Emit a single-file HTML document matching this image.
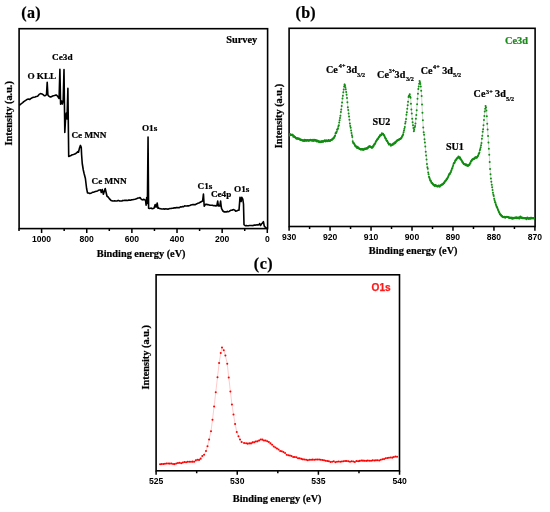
<!DOCTYPE html><html><head><meta charset="utf-8"><title>XPS spectra</title><style>html,body{margin:0;padding:0;background:#fff;width:550px;height:512px;overflow:hidden}svg{display:block}</style></head><body><svg width="550" height="512" viewBox="0 0 550 512"><rect width="550" height="512" fill="#fff"/><text x="21.3" y="18" style="font-family:'Liberation Serif',serif;font-weight:bold;stroke:currentColor;stroke-width:0.22px;font-size:16px;letter-spacing:0.25px">(a)</text><text x="295.6" y="18" style="font-family:'Liberation Serif',serif;font-weight:bold;stroke:currentColor;stroke-width:0.22px;font-size:16px;letter-spacing:0.25px">(b)</text><text x="253.8" y="268.7" style="font-family:'Liberation Serif',serif;font-weight:bold;stroke:currentColor;stroke-width:0.22px;font-size:16px;letter-spacing:0.5px">(c)</text><rect x="19.1" y="28.7" width="248.5" height="199.9" fill="none" stroke="#000" stroke-width="1.6"/><rect x="289.1" y="28.3" width="246" height="198.2" fill="none" stroke="#000" stroke-width="1.6"/><rect x="156.1" y="274.8" width="243.4" height="196" fill="none" stroke="#000" stroke-width="1.6"/><path d="M267.30 228.60V233.10M244.73 228.60V231.00M222.16 228.60V233.10M199.59 228.60V231.00M177.02 228.60V233.10M154.45 228.60V231.00M131.88 228.60V233.10M109.31 228.60V231.00M86.74 228.60V233.10M64.17 228.60V231.00M41.60 228.60V233.10M19.03 228.60V231.00M534.92 226.50V230.70M514.44 226.50V229.10M493.95 226.50V230.70M473.47 226.50V229.10M452.98 226.50V230.70M432.50 226.50V229.10M412.01 226.50V230.70M391.53 226.50V229.10M371.04 226.50V230.70M350.56 226.50V229.10M330.07 226.50V230.70M309.59 226.50V229.10M289.10 226.50V230.70M156.10 470.80V474.80M196.68 470.80V473.20M237.25 470.80V474.80M277.82 470.80V473.20M318.40 470.80V474.80M358.98 470.80V473.20M399.55 470.80V474.80" stroke="#000" stroke-width="1.5" fill="none"/><text x="267.30" y="241.8" text-anchor="middle" style="font-family:'Liberation Sans',Arial,sans-serif;font-weight:bold;font-size:8.6px">0</text><text x="222.16" y="241.8" text-anchor="middle" style="font-family:'Liberation Sans',Arial,sans-serif;font-weight:bold;font-size:8.6px">200</text><text x="177.02" y="241.8" text-anchor="middle" style="font-family:'Liberation Sans',Arial,sans-serif;font-weight:bold;font-size:8.6px">400</text><text x="131.88" y="241.8" text-anchor="middle" style="font-family:'Liberation Sans',Arial,sans-serif;font-weight:bold;font-size:8.6px">600</text><text x="86.74" y="241.8" text-anchor="middle" style="font-family:'Liberation Sans',Arial,sans-serif;font-weight:bold;font-size:8.6px">800</text><text x="41.60" y="241.8" text-anchor="middle" style="font-family:'Liberation Sans',Arial,sans-serif;font-weight:bold;font-size:8.6px">1000</text><text x="534.92" y="239.8" text-anchor="middle" style="font-family:'Liberation Sans',Arial,sans-serif;font-weight:bold;font-size:8.6px">870</text><text x="493.95" y="239.8" text-anchor="middle" style="font-family:'Liberation Sans',Arial,sans-serif;font-weight:bold;font-size:8.6px">880</text><text x="452.98" y="239.8" text-anchor="middle" style="font-family:'Liberation Sans',Arial,sans-serif;font-weight:bold;font-size:8.6px">890</text><text x="412.01" y="239.8" text-anchor="middle" style="font-family:'Liberation Sans',Arial,sans-serif;font-weight:bold;font-size:8.6px">900</text><text x="371.04" y="239.8" text-anchor="middle" style="font-family:'Liberation Sans',Arial,sans-serif;font-weight:bold;font-size:8.6px">910</text><text x="330.07" y="239.8" text-anchor="middle" style="font-family:'Liberation Sans',Arial,sans-serif;font-weight:bold;font-size:8.6px">920</text><text x="289.10" y="239.8" text-anchor="middle" style="font-family:'Liberation Sans',Arial,sans-serif;font-weight:bold;font-size:8.6px">930</text><text x="156.10" y="483.9" text-anchor="middle" style="font-family:'Liberation Sans',Arial,sans-serif;font-weight:bold;font-size:8.6px">525</text><text x="237.25" y="483.9" text-anchor="middle" style="font-family:'Liberation Sans',Arial,sans-serif;font-weight:bold;font-size:8.6px">530</text><text x="318.40" y="483.9" text-anchor="middle" style="font-family:'Liberation Sans',Arial,sans-serif;font-weight:bold;font-size:8.6px">535</text><text x="399.55" y="483.9" text-anchor="middle" style="font-family:'Liberation Sans',Arial,sans-serif;font-weight:bold;font-size:8.6px">540</text><text x="141.2" y="257.3" text-anchor="middle" style="font-family:'Liberation Serif',serif;font-weight:bold;stroke:currentColor;stroke-width:0.22px;font-size:10.3px">Binding energy (eV)</text><text x="413.2" y="254" text-anchor="middle" style="font-family:'Liberation Serif',serif;font-weight:bold;stroke:currentColor;stroke-width:0.22px;font-size:10.3px">Binding energy (eV)</text><text x="277.2" y="502" text-anchor="middle" style="font-family:'Liberation Serif',serif;font-weight:bold;stroke:currentColor;stroke-width:0.22px;font-size:10.3px">Binding energy (eV)</text><text transform="translate(12.2,113.3) rotate(-90)" text-anchor="middle" style="font-family:'Liberation Serif',serif;font-weight:bold;stroke:currentColor;stroke-width:0.22px;font-size:10.3px">Intensity (a.u.)</text><text transform="translate(281.9,116.1) rotate(-90)" text-anchor="middle" style="font-family:'Liberation Serif',serif;font-weight:bold;stroke:currentColor;stroke-width:0.22px;font-size:10.3px">Intensity (a.u.)</text><text transform="translate(148.9,357.3) rotate(-90)" text-anchor="middle" style="font-family:'Liberation Serif',serif;font-weight:bold;stroke:currentColor;stroke-width:0.22px;font-size:10.3px">Intensity (a.u.)</text><text x="27.40" y="78.75" style="font-family:'Liberation Serif',serif;font-weight:bold;stroke:currentColor;stroke-width:0.22px;font-size:9.2px">O KLL</text><text x="52.10" y="59.50" style="font-family:'Liberation Serif',serif;font-weight:bold;stroke:currentColor;stroke-width:0.22px;font-size:9.2px">Ce3d</text><text x="71.40" y="137.90" style="font-family:'Liberation Serif',serif;font-weight:bold;stroke:currentColor;stroke-width:0.22px;font-size:9.2px">Ce MNN</text><text x="91.60" y="183.50" style="font-family:'Liberation Serif',serif;font-weight:bold;stroke:currentColor;stroke-width:0.22px;font-size:9.2px">Ce MNN</text><text x="141.90" y="130.75" style="font-family:'Liberation Serif',serif;font-weight:bold;stroke:currentColor;stroke-width:0.22px;font-size:9.2px">O1s</text><text x="197.50" y="188.60" style="font-family:'Liberation Serif',serif;font-weight:bold;stroke:currentColor;stroke-width:0.22px;font-size:9.2px">C1s</text><text x="210.90" y="196.60" style="font-family:'Liberation Serif',serif;font-weight:bold;stroke:currentColor;stroke-width:0.22px;font-size:9.2px">Ce4p</text><text x="234.00" y="191.60" style="font-family:'Liberation Serif',serif;font-weight:bold;stroke:currentColor;stroke-width:0.22px;font-size:9.2px">O1s</text><text x="226.3" y="43.2" style="font-family:'Liberation Serif',serif;font-weight:bold;stroke:currentColor;stroke-width:0.22px;font-size:10.3px">Survey</text><text style="font-family:'Liberation Serif',serif;font-weight:bold;stroke:currentColor;stroke-width:0.22px;font-size:10.1px"><tspan x="325.90" y="73.10">Ce</tspan><tspan x="338.80" y="68.10" style="font-size:6.2px">4+</tspan><tspan x="346.50" y="73.10">3d</tspan><tspan x="357.10" y="76.80" style="font-size:6.2px">3/2</tspan></text><text style="font-family:'Liberation Serif',serif;font-weight:bold;stroke:currentColor;stroke-width:0.22px;font-size:10.1px"><tspan x="377.10" y="77.70">Ce</tspan><tspan x="388.70" y="73.00" style="font-size:6.2px">3+</tspan><tspan x="394.60" y="77.70">3d</tspan><tspan x="405.90" y="81.30" style="font-size:6.2px">3/2</tspan></text><text style="font-family:'Liberation Serif',serif;font-weight:bold;stroke:currentColor;stroke-width:0.22px;font-size:10.1px"><tspan x="420.80" y="73.70">Ce</tspan><tspan x="433.10" y="69.40" style="font-size:6.2px">4+</tspan><tspan x="442.30" y="73.70">3d</tspan><tspan x="453.10" y="77.30" style="font-size:6.2px">5/2</tspan></text><text style="font-family:'Liberation Serif',serif;font-weight:bold;stroke:currentColor;stroke-width:0.22px;font-size:10.1px"><tspan x="473.60" y="97.10">Ce</tspan><tspan x="486.10" y="94.00" style="font-size:6.2px">3+</tspan><tspan x="495.10" y="97.10">3d</tspan><tspan x="506.10" y="100.60" style="font-size:6.2px">5/2</tspan></text><text x="372.4" y="124.7" style="font-family:'Liberation Serif',serif;font-weight:bold;stroke:currentColor;stroke-width:0.22px;font-size:10.1px">SU2</text><text x="445.9" y="149.5" style="font-family:'Liberation Serif',serif;font-weight:bold;stroke:currentColor;stroke-width:0.22px;font-size:10.1px">SU1</text><text x="505" y="44" style="font-family:'Liberation Serif',serif;font-weight:bold;stroke:currentColor;stroke-width:0.22px;font-size:10.3px;fill:#1a8a1a;color:#1a8a1a">Ce3d</text><text x="371.6" y="291.3" style="font-family:'Liberation Sans',Arial,sans-serif;font-weight:bold;font-size:10.1px;fill:#ff1a1a;stroke:#ff1a1a;stroke-width:0.25px">O1s</text><polyline points="19.30,105.40 20.45,104.45 21.60,103.50 22.70,102.62 23.80,101.60 24.90,100.83 26.00,100.20 27.10,99.43 28.20,99.10 29.60,99.50 30.70,98.64 31.80,98.00 32.90,97.40 34.00,97.30 35.10,96.92 36.20,96.50 37.60,96.20 39.10,94.40 40.50,93.60 42.00,94.00 43.10,94.70 44.50,95.80 45.60,95.50 46.50,94.50 47.20,82.30 47.90,95.00 48.50,95.80 50.00,96.90 51.10,96.89 52.20,96.20 53.30,95.73 54.40,95.50 55.45,95.14 56.50,95.10 57.60,96.20 58.40,97.50 59.10,98.50 59.90,69.30 60.60,104.30 61.50,101.00 62.40,104.00 63.20,100.00 64.00,69.60 64.80,132.40 65.60,118.00 66.30,113.00 67.00,119.00 67.90,88.20 68.70,156.50 69.75,156.00 71.00,155.50 72.25,154.75 73.50,154.51 74.75,154.10 75.67,153.53 76.60,152.90 77.90,151.60 78.50,152.25 79.50,147.90 80.40,145.40 81.25,147.25 81.60,154.75 82.25,163.50 83.25,169.75 84.10,173.50 85.40,178.50 86.00,183.50 86.60,188.50 87.50,192.90 88.62,192.97 89.75,193.50 90.69,193.17 91.62,193.02 92.56,192.19 93.50,192.20 95.30,191.60 96.45,191.19 97.60,191.00 98.60,190.16 99.60,189.94 100.60,189.90 101.30,192.50 102.30,189.60 103.40,194.20 104.50,190.50 105.20,188.50 106.00,192.00 107.00,196.30 108.15,196.99 109.30,198.60 111.00,200.40 112.80,201.00 113.70,200.94 114.60,200.68 115.50,201.07 116.40,201.04 117.30,200.95 118.20,200.37 119.10,200.87 120.00,200.99 120.90,201.00 121.87,200.93 122.83,200.42 123.80,200.58 124.77,200.36 125.73,200.30 126.70,200.40 127.68,200.57 128.67,200.00 129.65,200.09 130.63,200.22 131.62,199.75 132.60,199.80 133.70,199.47 134.80,199.23 135.90,198.92 137.00,198.60 138.00,197.96 139.00,197.95 140.00,197.60 141.15,199.09 142.30,199.90 143.35,199.36 144.40,199.60 145.50,200.20 146.10,205.10 146.70,197.50 147.40,203.40 148.05,137.00 148.60,208.30 149.50,208.51 150.40,208.33 151.30,208.14 152.20,208.80 153.10,208.49 154.00,208.30 155.20,204.60 155.80,207.00 156.30,207.00 157.20,203.00 158.00,208.30 158.90,208.15 159.80,208.60 160.78,208.75 161.77,209.01 162.75,209.00 163.79,208.91 164.83,209.09 165.88,208.86 166.92,209.00 167.96,209.15 169.00,208.75 170.04,208.44 171.08,208.52 172.12,208.21 173.17,208.22 174.21,207.74 175.25,207.90 176.29,207.61 177.33,207.55 178.38,207.67 179.42,207.59 180.46,206.82 181.50,207.00 182.54,206.59 183.58,206.75 184.62,205.88 185.67,206.05 186.71,205.93 187.75,205.75 188.79,205.86 189.83,205.51 190.88,205.04 191.92,204.82 192.96,204.65 194.00,204.50 195.00,204.73 196.00,204.20 196.95,203.67 197.90,203.27 198.85,203.01 199.80,202.50 200.73,202.00 201.67,201.52 202.60,201.10 203.45,194.00 204.20,206.20 205.50,204.40 206.43,204.25 207.35,204.65 208.27,204.66 209.20,204.90 210.15,205.32 211.10,205.31 212.05,205.27 213.00,205.40 213.95,205.67 214.90,205.52 215.85,205.96 216.80,205.80 217.70,201.10 218.40,206.00 219.80,206.00 220.60,201.10 221.20,206.50 221.60,208.70 222.90,211.00 224.40,212.00 225.34,211.90 226.28,211.95 227.22,211.38 228.16,211.69 229.10,211.50 230.04,210.70 230.98,210.23 231.92,210.28 232.86,209.76 233.80,209.60 234.73,210.11 235.67,211.09 236.60,211.00 237.80,210.34 239.00,210.10 240.00,197.30 241.10,201.50 241.80,197.30 242.80,199.20 243.50,204.00 244.00,224.75 245.25,225.75 246.29,225.55 247.33,225.72 248.38,225.75 249.42,225.54 250.46,225.49 251.50,225.50 252.44,225.58 253.38,225.44 254.31,224.96 255.25,225.11 256.19,225.04 257.12,224.67 258.06,224.91 259.00,224.75 259.60,223.50 260.50,225.50 261.47,223.99 262.43,223.14 263.40,221.60 264.25,226.00 265.90,227.90 267.00,228.00" fill="none" stroke="#000" stroke-width="1.6" stroke-linejoin="round"/><polyline points="289.60,134.80 292.70,135.30 296.00,137.80 300.50,139.50 301.80,140.00 305.20,140.60 311.40,140.30 313.50,140.40 319.25,141.30 325.00,141.00 330.20,140.60 333.30,138.75 334.90,135.60 336.40,132.50 338.00,127.80 338.80,125.60 339.50,121.00 340.30,116.25 341.60,106.90 342.40,99.00 343.50,91.25 344.60,83.40 346.10,91.25 347.10,99.00 348.20,110.00 349.70,122.50 351.30,131.90 352.40,138.00 352.80,141.90 355.20,145.80 358.30,148.10 361.40,149.40 364.60,148.90 367.10,148.10 370.25,146.90 372.60,147.30 374.90,143.40 378.00,138.75 380.40,134.80 382.00,133.75 383.50,134.80 385.90,139.50 388.20,143.40 391.30,145.00 394.50,143.40 397.60,140.30 400.70,138.40 402.30,136.40 403.80,131.70 404.90,126.25 405.90,120.00 406.50,114.70 407.75,105.30 408.50,97.50 409.60,93.80 410.60,97.50 411.20,106.90 412.10,117.80 413.20,127.20 413.90,131.70 415.25,125.60 416.30,114.70 417.40,100.60 418.40,88.10 419.60,80.50 420.60,85.00 421.50,94.40 422.10,106.90 422.75,119.40 423.40,130.30 424.20,135.60 425.00,143.40 425.70,151.25 426.50,159.00 427.30,166.90 428.40,173.10 429.60,178.60 431.20,181.70 433.50,184.80 436.70,185.90 439.80,185.90 443.10,183.75 446.25,179.80 449.40,174.40 451.70,169.70 454.10,163.40 456.40,158.75 458.75,156.40 461.10,159.50 463.40,163.40 465.80,165.00 467.80,165.80 469.70,164.20 472.00,160.30 474.40,158.40 477.50,156.40 479.40,152.50 480.60,147.80 481.60,141.00 482.40,135.00 483.40,126.90 484.50,114.40 485.60,105.80 486.60,111.25 487.20,123.75 488.10,136.25 488.75,147.20 489.40,156.60 490.00,168.10 490.80,177.50 491.90,185.30 493.10,193.10 494.70,200.90 496.25,205.60 498.60,211.10 500.90,215.00 502.20,216.60 504.00,216.80 508.30,217.60 514.40,218.10 521.50,217.60 528.60,218.40 534.30,218.10" fill="none" stroke="#8fa88f" stroke-width="0.45" stroke-linejoin="round"/><g fill="#128c12"><circle cx="289.60" cy="135.54" r="1.00"/><circle cx="290.01" cy="133.90" r="1.00"/><circle cx="290.42" cy="135.00" r="1.00"/><circle cx="290.83" cy="134.77" r="1.00"/><circle cx="291.24" cy="134.92" r="1.00"/><circle cx="291.65" cy="135.02" r="1.00"/><circle cx="292.06" cy="134.50" r="1.00"/><circle cx="292.47" cy="135.18" r="1.00"/><circle cx="292.88" cy="135.06" r="1.00"/><circle cx="293.29" cy="136.84" r="1.00"/><circle cx="293.70" cy="136.17" r="1.00"/><circle cx="294.11" cy="136.33" r="1.00"/><circle cx="294.52" cy="136.81" r="1.00"/><circle cx="294.93" cy="137.16" r="1.00"/><circle cx="295.34" cy="137.37" r="1.00"/><circle cx="295.75" cy="137.99" r="1.00"/><circle cx="296.16" cy="138.45" r="1.00"/><circle cx="296.57" cy="138.20" r="1.00"/><circle cx="296.98" cy="138.74" r="1.00"/><circle cx="297.39" cy="138.26" r="1.00"/><circle cx="297.80" cy="138.36" r="1.00"/><circle cx="298.21" cy="138.90" r="1.00"/><circle cx="298.62" cy="138.79" r="1.00"/><circle cx="299.03" cy="138.57" r="1.00"/><circle cx="299.44" cy="138.92" r="1.00"/><circle cx="299.85" cy="139.31" r="1.00"/><circle cx="300.26" cy="140.08" r="1.00"/><circle cx="300.67" cy="139.45" r="1.00"/><circle cx="301.08" cy="139.78" r="1.00"/><circle cx="301.49" cy="140.33" r="1.00"/><circle cx="301.90" cy="139.93" r="1.00"/><circle cx="302.31" cy="140.16" r="1.00"/><circle cx="302.72" cy="140.62" r="1.00"/><circle cx="303.13" cy="140.78" r="1.00"/><circle cx="303.54" cy="140.57" r="1.00"/><circle cx="303.95" cy="140.81" r="1.00"/><circle cx="304.36" cy="139.65" r="1.00"/><circle cx="304.77" cy="140.99" r="1.00"/><circle cx="305.18" cy="140.25" r="1.00"/><circle cx="305.59" cy="139.97" r="1.00"/><circle cx="306.00" cy="140.59" r="1.00"/><circle cx="306.41" cy="140.80" r="1.00"/><circle cx="306.82" cy="140.30" r="1.00"/><circle cx="307.23" cy="140.06" r="1.00"/><circle cx="307.64" cy="140.43" r="1.00"/><circle cx="308.05" cy="140.37" r="1.00"/><circle cx="308.46" cy="140.84" r="1.00"/><circle cx="308.87" cy="140.49" r="1.00"/><circle cx="309.28" cy="140.19" r="1.00"/><circle cx="309.69" cy="140.44" r="1.00"/><circle cx="310.10" cy="139.98" r="1.00"/><circle cx="310.51" cy="139.67" r="1.00"/><circle cx="310.92" cy="140.27" r="1.00"/><circle cx="311.33" cy="140.47" r="1.00"/><circle cx="311.74" cy="140.30" r="1.00"/><circle cx="312.15" cy="140.28" r="1.00"/><circle cx="312.56" cy="140.71" r="1.00"/><circle cx="312.97" cy="139.74" r="1.00"/><circle cx="313.38" cy="140.77" r="1.00"/><circle cx="313.79" cy="140.74" r="1.00"/><circle cx="314.20" cy="139.76" r="1.00"/><circle cx="314.61" cy="140.29" r="1.00"/><circle cx="315.02" cy="139.96" r="1.00"/><circle cx="315.43" cy="140.76" r="1.00"/><circle cx="315.84" cy="139.96" r="1.00"/><circle cx="316.25" cy="140.47" r="1.00"/><circle cx="316.66" cy="141.17" r="1.00"/><circle cx="317.07" cy="141.49" r="1.00"/><circle cx="317.48" cy="140.51" r="1.00"/><circle cx="317.89" cy="141.08" r="1.00"/><circle cx="318.30" cy="141.38" r="1.00"/><circle cx="318.71" cy="141.24" r="1.00"/><circle cx="319.12" cy="142.22" r="1.00"/><circle cx="319.53" cy="141.40" r="1.00"/><circle cx="319.94" cy="141.99" r="1.00"/><circle cx="320.35" cy="141.39" r="1.00"/><circle cx="320.76" cy="142.34" r="1.00"/><circle cx="321.17" cy="141.89" r="1.00"/><circle cx="321.58" cy="141.50" r="1.00"/><circle cx="321.99" cy="140.94" r="1.00"/><circle cx="322.40" cy="141.80" r="1.00"/><circle cx="322.81" cy="141.43" r="1.00"/><circle cx="323.22" cy="141.50" r="1.00"/><circle cx="323.63" cy="141.50" r="1.00"/><circle cx="324.04" cy="141.02" r="1.00"/><circle cx="324.45" cy="140.59" r="1.00"/><circle cx="324.86" cy="140.53" r="1.00"/><circle cx="325.27" cy="140.68" r="1.00"/><circle cx="325.68" cy="141.47" r="1.00"/><circle cx="326.09" cy="140.40" r="1.00"/><circle cx="326.50" cy="140.58" r="1.00"/><circle cx="326.91" cy="140.83" r="1.00"/><circle cx="327.32" cy="141.10" r="1.00"/><circle cx="327.73" cy="141.15" r="1.00"/><circle cx="328.14" cy="140.47" r="1.00"/><circle cx="328.55" cy="140.05" r="1.00"/><circle cx="328.96" cy="140.60" r="1.00"/><circle cx="329.37" cy="141.08" r="1.00"/><circle cx="329.78" cy="140.78" r="1.00"/><circle cx="330.19" cy="140.67" r="1.00"/><circle cx="330.60" cy="140.30" r="1.00"/><circle cx="331.01" cy="140.06" r="1.00"/><circle cx="331.42" cy="139.77" r="1.00"/><circle cx="331.83" cy="139.92" r="1.00"/><circle cx="332.24" cy="139.13" r="1.00"/><circle cx="332.65" cy="139.08" r="1.00"/><circle cx="333.06" cy="138.51" r="1.00"/><circle cx="333.47" cy="138.27" r="1.00"/><circle cx="333.88" cy="137.52" r="1.00"/><circle cx="334.29" cy="137.56" r="1.00"/><circle cx="334.70" cy="136.23" r="1.00"/><circle cx="335.11" cy="135.53" r="1.00"/><circle cx="335.52" cy="133.31" r="1.00"/><circle cx="335.93" cy="133.16" r="1.00"/><circle cx="336.34" cy="132.35" r="1.00"/><circle cx="336.75" cy="131.55" r="1.00"/><circle cx="337.16" cy="129.39" r="1.00"/><circle cx="337.57" cy="129.43" r="1.00"/><circle cx="337.98" cy="128.16" r="1.00"/><circle cx="338.39" cy="126.33" r="1.00"/><circle cx="338.80" cy="125.36" r="1.00"/><circle cx="339.21" cy="122.57" r="1.00"/><circle cx="339.62" cy="120.18" r="1.00"/><circle cx="340.03" cy="118.01" r="1.00"/><circle cx="340.44" cy="115.87" r="1.00"/><circle cx="340.85" cy="111.97" r="1.00"/><circle cx="341.26" cy="109.46" r="1.00"/><circle cx="341.67" cy="106.06" r="1.00"/><circle cx="342.08" cy="102.60" r="1.00"/><circle cx="342.49" cy="98.60" r="1.00"/><circle cx="342.90" cy="95.84" r="1.00"/><circle cx="343.31" cy="92.17" r="1.00"/><circle cx="343.72" cy="89.58" r="1.00"/><circle cx="344.13" cy="86.41" r="1.00"/><circle cx="344.54" cy="84.39" r="1.00"/><circle cx="344.95" cy="85.45" r="1.00"/><circle cx="345.36" cy="87.21" r="1.00"/><circle cx="345.77" cy="89.32" r="1.00"/><circle cx="346.18" cy="91.97" r="1.00"/><circle cx="346.59" cy="94.85" r="1.00"/><circle cx="347.00" cy="97.89" r="1.00"/><circle cx="347.41" cy="102.20" r="1.00"/><circle cx="347.82" cy="107.13" r="1.00"/><circle cx="348.23" cy="110.11" r="1.00"/><circle cx="348.64" cy="113.42" r="1.00"/><circle cx="349.05" cy="116.56" r="1.00"/><circle cx="349.46" cy="119.81" r="1.00"/><circle cx="349.87" cy="123.42" r="1.00"/><circle cx="350.28" cy="125.92" r="1.00"/><circle cx="350.69" cy="127.87" r="1.00"/><circle cx="351.10" cy="130.49" r="1.00"/><circle cx="351.51" cy="132.88" r="1.00"/><circle cx="351.92" cy="135.31" r="1.00"/><circle cx="352.33" cy="137.10" r="1.00"/><circle cx="352.74" cy="141.29" r="1.00"/><circle cx="353.15" cy="142.65" r="1.00"/><circle cx="353.56" cy="142.98" r="1.00"/><circle cx="353.97" cy="143.60" r="1.00"/><circle cx="354.38" cy="144.03" r="1.00"/><circle cx="354.79" cy="144.97" r="1.00"/><circle cx="355.20" cy="146.04" r="1.00"/><circle cx="355.61" cy="145.86" r="1.00"/><circle cx="356.02" cy="146.41" r="1.00"/><circle cx="356.43" cy="147.08" r="1.00"/><circle cx="356.84" cy="147.42" r="1.00"/><circle cx="357.25" cy="147.99" r="1.00"/><circle cx="357.66" cy="146.76" r="1.00"/><circle cx="358.07" cy="148.04" r="1.00"/><circle cx="358.48" cy="148.02" r="1.00"/><circle cx="358.89" cy="148.26" r="1.00"/><circle cx="359.30" cy="148.63" r="1.00"/><circle cx="359.71" cy="148.89" r="1.00"/><circle cx="360.12" cy="149.12" r="1.00"/><circle cx="360.53" cy="148.93" r="1.00"/><circle cx="360.94" cy="149.64" r="1.00"/><circle cx="361.35" cy="149.04" r="1.00"/><circle cx="361.76" cy="149.10" r="1.00"/><circle cx="362.17" cy="149.50" r="1.00"/><circle cx="362.58" cy="148.90" r="1.00"/><circle cx="362.99" cy="149.67" r="1.00"/><circle cx="363.40" cy="149.45" r="1.00"/><circle cx="363.81" cy="149.87" r="1.00"/><circle cx="364.22" cy="148.85" r="1.00"/><circle cx="364.63" cy="148.65" r="1.00"/><circle cx="365.04" cy="148.66" r="1.00"/><circle cx="365.45" cy="148.88" r="1.00"/><circle cx="365.86" cy="148.44" r="1.00"/><circle cx="366.27" cy="148.50" r="1.00"/><circle cx="366.68" cy="148.16" r="1.00"/><circle cx="367.09" cy="148.74" r="1.00"/><circle cx="367.50" cy="147.76" r="1.00"/><circle cx="367.91" cy="148.05" r="1.00"/><circle cx="368.32" cy="147.02" r="1.00"/><circle cx="368.73" cy="146.68" r="1.00"/><circle cx="369.14" cy="146.52" r="1.00"/><circle cx="369.55" cy="146.20" r="1.00"/><circle cx="369.96" cy="146.55" r="1.00"/><circle cx="370.37" cy="146.80" r="1.00"/><circle cx="370.78" cy="146.68" r="1.00"/><circle cx="371.19" cy="147.16" r="1.00"/><circle cx="371.60" cy="147.74" r="1.00"/><circle cx="372.01" cy="147.40" r="1.00"/><circle cx="372.42" cy="147.50" r="1.00"/><circle cx="372.83" cy="146.98" r="1.00"/><circle cx="373.24" cy="145.81" r="1.00"/><circle cx="373.65" cy="146.09" r="1.00"/><circle cx="374.06" cy="144.45" r="1.00"/><circle cx="374.47" cy="144.58" r="1.00"/><circle cx="374.88" cy="143.64" r="1.00"/><circle cx="375.29" cy="143.29" r="1.00"/><circle cx="375.70" cy="142.11" r="1.00"/><circle cx="376.11" cy="141.25" r="1.00"/><circle cx="376.52" cy="140.85" r="1.00"/><circle cx="376.93" cy="139.98" r="1.00"/><circle cx="377.34" cy="139.33" r="1.00"/><circle cx="377.75" cy="138.95" r="1.00"/><circle cx="378.16" cy="138.46" r="1.00"/><circle cx="378.57" cy="137.87" r="1.00"/><circle cx="378.98" cy="137.07" r="1.00"/><circle cx="379.39" cy="136.74" r="1.00"/><circle cx="379.80" cy="135.55" r="1.00"/><circle cx="380.21" cy="135.67" r="1.00"/><circle cx="380.62" cy="134.63" r="1.00"/><circle cx="381.03" cy="135.15" r="1.00"/><circle cx="381.44" cy="134.90" r="1.00"/><circle cx="381.85" cy="133.29" r="1.00"/><circle cx="382.26" cy="134.01" r="1.00"/><circle cx="382.67" cy="133.90" r="1.00"/><circle cx="383.08" cy="133.84" r="1.00"/><circle cx="383.49" cy="134.72" r="1.00"/><circle cx="383.90" cy="135.17" r="1.00"/><circle cx="384.31" cy="135.57" r="1.00"/><circle cx="384.72" cy="136.85" r="1.00"/><circle cx="385.13" cy="137.63" r="1.00"/><circle cx="385.54" cy="138.61" r="1.00"/><circle cx="385.95" cy="138.79" r="1.00"/><circle cx="386.36" cy="140.21" r="1.00"/><circle cx="386.77" cy="140.82" r="1.00"/><circle cx="387.18" cy="140.74" r="1.00"/><circle cx="387.59" cy="141.70" r="1.00"/><circle cx="388.00" cy="142.76" r="1.00"/><circle cx="388.41" cy="143.19" r="1.00"/><circle cx="388.82" cy="144.49" r="1.00"/><circle cx="389.23" cy="144.17" r="1.00"/><circle cx="389.64" cy="144.03" r="1.00"/><circle cx="390.05" cy="144.32" r="1.00"/><circle cx="390.46" cy="144.86" r="1.00"/><circle cx="390.87" cy="145.78" r="1.00"/><circle cx="391.28" cy="145.07" r="1.00"/><circle cx="391.69" cy="144.78" r="1.00"/><circle cx="392.10" cy="144.63" r="1.00"/><circle cx="392.51" cy="144.16" r="1.00"/><circle cx="392.92" cy="144.87" r="1.00"/><circle cx="393.33" cy="143.53" r="1.00"/><circle cx="393.74" cy="143.81" r="1.00"/><circle cx="394.15" cy="143.35" r="1.00"/><circle cx="394.56" cy="143.40" r="1.00"/><circle cx="394.97" cy="142.37" r="1.00"/><circle cx="395.38" cy="143.00" r="1.00"/><circle cx="395.79" cy="141.86" r="1.00"/><circle cx="396.20" cy="141.73" r="1.00"/><circle cx="396.61" cy="141.07" r="1.00"/><circle cx="397.02" cy="140.61" r="1.00"/><circle cx="397.43" cy="140.46" r="1.00"/><circle cx="397.84" cy="140.37" r="1.00"/><circle cx="398.25" cy="140.12" r="1.00"/><circle cx="398.66" cy="140.06" r="1.00"/><circle cx="399.07" cy="139.60" r="1.00"/><circle cx="399.48" cy="139.02" r="1.00"/><circle cx="399.89" cy="139.05" r="1.00"/><circle cx="400.30" cy="138.95" r="1.00"/><circle cx="400.71" cy="138.45" r="1.00"/><circle cx="401.12" cy="138.19" r="1.00"/><circle cx="401.53" cy="137.75" r="1.00"/><circle cx="401.94" cy="136.81" r="1.00"/><circle cx="402.35" cy="135.99" r="1.00"/><circle cx="402.76" cy="135.25" r="1.00"/><circle cx="403.17" cy="134.27" r="1.00"/><circle cx="403.58" cy="132.19" r="1.00"/><circle cx="403.99" cy="130.50" r="1.00"/><circle cx="404.40" cy="128.67" r="1.00"/><circle cx="404.81" cy="127.10" r="1.00"/><circle cx="405.22" cy="123.57" r="1.00"/><circle cx="405.63" cy="121.63" r="1.00"/><circle cx="406.04" cy="118.96" r="1.00"/><circle cx="406.45" cy="114.80" r="1.00"/><circle cx="406.86" cy="112.36" r="1.00"/><circle cx="407.27" cy="108.78" r="1.00"/><circle cx="407.68" cy="105.36" r="1.00"/><circle cx="408.09" cy="101.72" r="1.00"/><circle cx="408.50" cy="96.92" r="1.00"/><circle cx="408.91" cy="96.02" r="1.00"/><circle cx="409.32" cy="95.43" r="1.00"/><circle cx="409.73" cy="94.24" r="1.00"/><circle cx="410.14" cy="96.78" r="1.00"/><circle cx="410.55" cy="97.71" r="1.00"/><circle cx="410.96" cy="103.83" r="1.00"/><circle cx="411.37" cy="109.45" r="1.00"/><circle cx="411.78" cy="113.47" r="1.00"/><circle cx="412.19" cy="118.72" r="1.00"/><circle cx="412.60" cy="122.31" r="1.00"/><circle cx="413.01" cy="125.22" r="1.00"/><circle cx="413.42" cy="128.10" r="1.00"/><circle cx="413.83" cy="131.25" r="1.00"/><circle cx="414.24" cy="129.73" r="1.00"/><circle cx="414.65" cy="127.51" r="1.00"/><circle cx="415.06" cy="126.07" r="1.00"/><circle cx="415.47" cy="123.57" r="1.00"/><circle cx="415.88" cy="118.87" r="1.00"/><circle cx="416.29" cy="115.09" r="1.00"/><circle cx="416.70" cy="110.20" r="1.00"/><circle cx="417.11" cy="104.33" r="1.00"/><circle cx="417.52" cy="98.83" r="1.00"/><circle cx="417.93" cy="93.68" r="1.00"/><circle cx="418.34" cy="89.07" r="1.00"/><circle cx="418.75" cy="86.51" r="1.00"/><circle cx="419.16" cy="83.64" r="1.00"/><circle cx="419.57" cy="81.12" r="1.00"/><circle cx="419.98" cy="82.24" r="1.00"/><circle cx="420.39" cy="84.06" r="1.00"/><circle cx="420.80" cy="86.60" r="1.00"/><circle cx="421.21" cy="90.78" r="1.00"/><circle cx="421.62" cy="96.11" r="1.00"/><circle cx="422.03" cy="104.61" r="1.00"/><circle cx="422.44" cy="112.87" r="1.00"/><circle cx="422.85" cy="120.32" r="1.00"/><circle cx="423.26" cy="127.53" r="1.00"/><circle cx="423.67" cy="132.22" r="1.00"/><circle cx="424.08" cy="134.71" r="1.00"/><circle cx="424.49" cy="139.24" r="1.00"/><circle cx="424.90" cy="142.54" r="1.00"/><circle cx="425.31" cy="146.53" r="1.00"/><circle cx="425.72" cy="151.69" r="1.00"/><circle cx="426.13" cy="155.58" r="1.00"/><circle cx="426.54" cy="159.40" r="1.00"/><circle cx="426.95" cy="163.99" r="1.00"/><circle cx="427.36" cy="167.34" r="1.00"/><circle cx="427.77" cy="168.86" r="1.00"/><circle cx="428.18" cy="172.61" r="1.00"/><circle cx="428.59" cy="174.16" r="1.00"/><circle cx="429.00" cy="176.70" r="1.00"/><circle cx="429.41" cy="177.71" r="1.00"/><circle cx="429.82" cy="178.96" r="1.00"/><circle cx="430.23" cy="180.57" r="1.00"/><circle cx="430.64" cy="180.49" r="1.00"/><circle cx="431.05" cy="181.55" r="1.00"/><circle cx="431.46" cy="182.68" r="1.00"/><circle cx="431.87" cy="182.80" r="1.00"/><circle cx="432.28" cy="183.32" r="1.00"/><circle cx="432.69" cy="183.90" r="1.00"/><circle cx="433.10" cy="184.62" r="1.00"/><circle cx="433.51" cy="184.52" r="1.00"/><circle cx="433.92" cy="185.15" r="1.00"/><circle cx="434.33" cy="185.19" r="1.00"/><circle cx="434.74" cy="186.01" r="1.00"/><circle cx="435.15" cy="185.13" r="1.00"/><circle cx="435.56" cy="185.11" r="1.00"/><circle cx="435.97" cy="185.79" r="1.00"/><circle cx="436.38" cy="185.65" r="1.00"/><circle cx="436.79" cy="186.23" r="1.00"/><circle cx="437.20" cy="186.26" r="1.00"/><circle cx="437.61" cy="186.53" r="1.00"/><circle cx="438.02" cy="185.87" r="1.00"/><circle cx="438.43" cy="186.20" r="1.00"/><circle cx="438.84" cy="185.47" r="1.00"/><circle cx="439.25" cy="185.88" r="1.00"/><circle cx="439.66" cy="186.69" r="1.00"/><circle cx="440.07" cy="185.79" r="1.00"/><circle cx="440.48" cy="185.50" r="1.00"/><circle cx="440.89" cy="185.14" r="1.00"/><circle cx="441.30" cy="185.31" r="1.00"/><circle cx="441.71" cy="184.79" r="1.00"/><circle cx="442.12" cy="184.16" r="1.00"/><circle cx="442.53" cy="184.44" r="1.00"/><circle cx="442.94" cy="183.92" r="1.00"/><circle cx="443.35" cy="183.81" r="1.00"/><circle cx="443.76" cy="182.76" r="1.00"/><circle cx="444.17" cy="183.09" r="1.00"/><circle cx="444.58" cy="182.09" r="1.00"/><circle cx="444.99" cy="181.40" r="1.00"/><circle cx="445.40" cy="180.83" r="1.00"/><circle cx="445.81" cy="180.50" r="1.00"/><circle cx="446.22" cy="180.28" r="1.00"/><circle cx="446.63" cy="179.10" r="1.00"/><circle cx="447.04" cy="178.88" r="1.00"/><circle cx="447.45" cy="178.02" r="1.00"/><circle cx="447.86" cy="177.53" r="1.00"/><circle cx="448.27" cy="176.60" r="1.00"/><circle cx="448.68" cy="175.41" r="1.00"/><circle cx="449.09" cy="174.24" r="1.00"/><circle cx="449.50" cy="174.33" r="1.00"/><circle cx="449.91" cy="173.72" r="1.00"/><circle cx="450.32" cy="172.76" r="1.00"/><circle cx="450.73" cy="172.13" r="1.00"/><circle cx="451.14" cy="170.91" r="1.00"/><circle cx="451.55" cy="170.04" r="1.00"/><circle cx="451.96" cy="168.51" r="1.00"/><circle cx="452.37" cy="168.37" r="1.00"/><circle cx="452.78" cy="166.77" r="1.00"/><circle cx="453.19" cy="165.32" r="1.00"/><circle cx="453.60" cy="163.69" r="1.00"/><circle cx="454.01" cy="163.10" r="1.00"/><circle cx="454.42" cy="163.05" r="1.00"/><circle cx="454.83" cy="161.89" r="1.00"/><circle cx="455.24" cy="160.58" r="1.00"/><circle cx="455.65" cy="160.57" r="1.00"/><circle cx="456.06" cy="159.73" r="1.00"/><circle cx="456.47" cy="158.98" r="1.00"/><circle cx="456.88" cy="158.43" r="1.00"/><circle cx="457.29" cy="158.15" r="1.00"/><circle cx="457.70" cy="157.70" r="1.00"/><circle cx="458.11" cy="157.38" r="1.00"/><circle cx="458.52" cy="156.39" r="1.00"/><circle cx="458.93" cy="157.32" r="1.00"/><circle cx="459.34" cy="157.39" r="1.00"/><circle cx="459.75" cy="158.44" r="1.00"/><circle cx="460.16" cy="157.60" r="1.00"/><circle cx="460.57" cy="158.97" r="1.00"/><circle cx="460.98" cy="159.61" r="1.00"/><circle cx="461.39" cy="159.89" r="1.00"/><circle cx="461.80" cy="160.74" r="1.00"/><circle cx="462.21" cy="161.64" r="1.00"/><circle cx="462.62" cy="162.41" r="1.00"/><circle cx="463.03" cy="162.62" r="1.00"/><circle cx="463.44" cy="163.47" r="1.00"/><circle cx="463.85" cy="164.08" r="1.00"/><circle cx="464.26" cy="164.22" r="1.00"/><circle cx="464.67" cy="164.14" r="1.00"/><circle cx="465.08" cy="164.28" r="1.00"/><circle cx="465.49" cy="164.63" r="1.00"/><circle cx="465.90" cy="165.20" r="1.00"/><circle cx="466.31" cy="164.56" r="1.00"/><circle cx="466.72" cy="164.69" r="1.00"/><circle cx="467.13" cy="165.65" r="1.00"/><circle cx="467.54" cy="165.50" r="1.00"/><circle cx="467.95" cy="165.76" r="1.00"/><circle cx="468.36" cy="165.61" r="1.00"/><circle cx="468.77" cy="165.36" r="1.00"/><circle cx="469.18" cy="164.51" r="1.00"/><circle cx="469.59" cy="164.86" r="1.00"/><circle cx="470.00" cy="163.24" r="1.00"/><circle cx="470.41" cy="163.29" r="1.00"/><circle cx="470.82" cy="161.73" r="1.00"/><circle cx="471.23" cy="160.98" r="1.00"/><circle cx="471.64" cy="160.84" r="1.00"/><circle cx="472.05" cy="159.80" r="1.00"/><circle cx="472.46" cy="159.39" r="1.00"/><circle cx="472.87" cy="159.30" r="1.00"/><circle cx="473.28" cy="159.19" r="1.00"/><circle cx="473.69" cy="158.64" r="1.00"/><circle cx="474.10" cy="158.53" r="1.00"/><circle cx="474.51" cy="158.77" r="1.00"/><circle cx="474.92" cy="157.81" r="1.00"/><circle cx="475.33" cy="157.61" r="1.00"/><circle cx="475.74" cy="157.25" r="1.00"/><circle cx="476.15" cy="157.76" r="1.00"/><circle cx="476.56" cy="157.59" r="1.00"/><circle cx="476.97" cy="157.43" r="1.00"/><circle cx="477.38" cy="156.69" r="1.00"/><circle cx="477.79" cy="156.01" r="1.00"/><circle cx="478.20" cy="155.42" r="1.00"/><circle cx="478.61" cy="154.07" r="1.00"/><circle cx="479.02" cy="153.62" r="1.00"/><circle cx="479.43" cy="152.58" r="1.00"/><circle cx="479.84" cy="150.28" r="1.00"/><circle cx="480.25" cy="148.92" r="1.00"/><circle cx="480.66" cy="147.30" r="1.00"/><circle cx="481.07" cy="145.29" r="1.00"/><circle cx="481.48" cy="142.94" r="1.00"/><circle cx="481.89" cy="138.82" r="1.00"/><circle cx="482.30" cy="135.81" r="1.00"/><circle cx="482.71" cy="131.83" r="1.00"/><circle cx="483.12" cy="129.32" r="1.00"/><circle cx="483.53" cy="125.24" r="1.00"/><circle cx="483.94" cy="120.09" r="1.00"/><circle cx="484.35" cy="116.01" r="1.00"/><circle cx="484.76" cy="111.50" r="1.00"/><circle cx="485.17" cy="108.83" r="1.00"/><circle cx="485.58" cy="105.89" r="1.00"/><circle cx="485.99" cy="107.38" r="1.00"/><circle cx="486.40" cy="110.60" r="1.00"/><circle cx="486.81" cy="116.22" r="1.00"/><circle cx="487.22" cy="123.78" r="1.00"/><circle cx="487.63" cy="129.57" r="1.00"/><circle cx="488.04" cy="135.93" r="1.00"/><circle cx="488.45" cy="142.44" r="1.00"/><circle cx="488.86" cy="148.63" r="1.00"/><circle cx="489.27" cy="154.74" r="1.00"/><circle cx="489.68" cy="162.03" r="1.00"/><circle cx="490.09" cy="169.12" r="1.00"/><circle cx="490.50" cy="174.28" r="1.00"/><circle cx="490.91" cy="178.54" r="1.00"/><circle cx="491.32" cy="181.84" r="1.00"/><circle cx="491.73" cy="184.66" r="1.00"/><circle cx="492.14" cy="187.31" r="1.00"/><circle cx="492.55" cy="190.12" r="1.00"/><circle cx="492.96" cy="192.80" r="1.00"/><circle cx="493.37" cy="194.68" r="1.00"/><circle cx="493.78" cy="196.02" r="1.00"/><circle cx="494.19" cy="198.77" r="1.00"/><circle cx="494.60" cy="200.32" r="1.00"/><circle cx="495.01" cy="202.11" r="1.00"/><circle cx="495.42" cy="202.76" r="1.00"/><circle cx="495.83" cy="204.20" r="1.00"/><circle cx="496.24" cy="205.52" r="1.00"/><circle cx="496.65" cy="206.86" r="1.00"/><circle cx="497.06" cy="207.30" r="1.00"/><circle cx="497.47" cy="208.18" r="1.00"/><circle cx="497.88" cy="209.50" r="1.00"/><circle cx="498.29" cy="210.35" r="1.00"/><circle cx="498.70" cy="211.47" r="1.00"/><circle cx="499.11" cy="212.17" r="1.00"/><circle cx="499.52" cy="213.04" r="1.00"/><circle cx="499.93" cy="214.32" r="1.00"/><circle cx="500.34" cy="214.29" r="1.00"/><circle cx="500.75" cy="215.00" r="1.00"/><circle cx="501.16" cy="215.26" r="1.00"/><circle cx="501.57" cy="216.20" r="1.00"/><circle cx="501.98" cy="216.03" r="1.00"/><circle cx="502.39" cy="216.51" r="1.00"/><circle cx="502.80" cy="216.81" r="1.00"/><circle cx="503.21" cy="217.14" r="1.00"/><circle cx="503.62" cy="217.04" r="1.00"/><circle cx="504.03" cy="216.90" r="1.00"/><circle cx="504.44" cy="216.80" r="1.00"/><circle cx="504.85" cy="217.32" r="1.00"/><circle cx="505.26" cy="217.63" r="1.00"/><circle cx="505.67" cy="217.12" r="1.00"/><circle cx="506.08" cy="217.03" r="1.00"/><circle cx="506.49" cy="217.12" r="1.00"/><circle cx="506.90" cy="216.82" r="1.00"/><circle cx="507.31" cy="217.01" r="1.00"/><circle cx="507.72" cy="217.05" r="1.00"/><circle cx="508.13" cy="217.34" r="1.00"/><circle cx="508.54" cy="217.41" r="1.00"/><circle cx="508.95" cy="217.18" r="1.00"/><circle cx="509.36" cy="218.07" r="1.00"/><circle cx="509.77" cy="218.11" r="1.00"/><circle cx="510.18" cy="217.62" r="1.00"/><circle cx="510.59" cy="218.01" r="1.00"/><circle cx="511.00" cy="218.09" r="1.00"/><circle cx="511.41" cy="218.32" r="1.00"/><circle cx="511.82" cy="217.49" r="1.00"/><circle cx="512.23" cy="218.71" r="1.00"/><circle cx="512.64" cy="218.08" r="1.00"/><circle cx="513.05" cy="218.60" r="1.00"/><circle cx="513.46" cy="218.15" r="1.00"/><circle cx="513.87" cy="217.86" r="1.00"/><circle cx="514.28" cy="218.11" r="1.00"/><circle cx="514.69" cy="218.29" r="1.00"/><circle cx="515.10" cy="217.60" r="1.00"/><circle cx="515.51" cy="217.94" r="1.00"/><circle cx="515.92" cy="217.87" r="1.00"/><circle cx="516.33" cy="217.28" r="1.00"/><circle cx="516.74" cy="218.24" r="1.00"/><circle cx="517.15" cy="217.75" r="1.00"/><circle cx="517.56" cy="217.76" r="1.00"/><circle cx="517.97" cy="218.21" r="1.00"/><circle cx="518.38" cy="217.39" r="1.00"/><circle cx="518.79" cy="217.68" r="1.00"/><circle cx="519.20" cy="218.44" r="1.00"/><circle cx="519.61" cy="218.26" r="1.00"/><circle cx="520.02" cy="217.10" r="1.00"/><circle cx="520.43" cy="216.53" r="1.00"/><circle cx="520.84" cy="217.28" r="1.00"/><circle cx="521.25" cy="218.04" r="1.00"/><circle cx="521.66" cy="217.54" r="1.00"/><circle cx="522.07" cy="217.65" r="1.00"/><circle cx="522.48" cy="218.14" r="1.00"/><circle cx="522.89" cy="217.67" r="1.00"/><circle cx="523.30" cy="218.04" r="1.00"/><circle cx="523.71" cy="218.35" r="1.00"/><circle cx="524.12" cy="218.22" r="1.00"/><circle cx="524.53" cy="218.24" r="1.00"/><circle cx="524.94" cy="217.92" r="1.00"/><circle cx="525.35" cy="218.17" r="1.00"/><circle cx="525.76" cy="217.99" r="1.00"/><circle cx="526.17" cy="218.72" r="1.00"/><circle cx="526.58" cy="219.19" r="1.00"/><circle cx="526.99" cy="217.95" r="1.00"/><circle cx="527.40" cy="217.44" r="1.00"/><circle cx="527.81" cy="218.08" r="1.00"/><circle cx="528.22" cy="218.40" r="1.00"/><circle cx="528.63" cy="218.69" r="1.00"/><circle cx="529.04" cy="218.70" r="1.00"/><circle cx="529.45" cy="217.92" r="1.00"/><circle cx="529.86" cy="218.01" r="1.00"/><circle cx="530.27" cy="218.73" r="1.00"/><circle cx="530.68" cy="217.75" r="1.00"/><circle cx="531.09" cy="218.44" r="1.00"/><circle cx="531.50" cy="217.84" r="1.00"/><circle cx="531.91" cy="218.13" r="1.00"/><circle cx="532.32" cy="218.14" r="1.00"/><circle cx="532.73" cy="218.20" r="1.00"/><circle cx="533.14" cy="218.28" r="1.00"/><circle cx="533.55" cy="217.89" r="1.00"/><circle cx="533.96" cy="218.51" r="1.00"/></g><polyline points="160.10,464.40 164.10,464.10 167.20,463.10 169.20,463.80 174.30,463.80 179.40,463.10 185.50,462.40 189.50,461.80 193.60,461.80 195.10,461.10 196.60,459.75 198.70,460.10 200.70,458.50 201.60,457.50 202.70,456.00 204.10,454.75 206.00,451.00 207.50,446.25 209.10,439.40 211.00,431.25 212.50,419.75 214.10,406.50 215.75,392.25 217.50,377.25 219.10,363.10 220.75,353.10 222.00,347.50 223.75,350.25 225.40,355.60 227.25,363.75 228.75,377.50 230.40,391.50 231.90,404.40 233.50,414.40 235.10,424.00 236.75,431.90 238.50,436.25 240.00,439.40 241.60,441.90 244.10,443.10 247.25,443.75 249.75,443.50 252.25,442.25 254.75,441.00 257.25,441.00 258.70,440.20 261.40,439.10 264.10,440.20 266.80,440.90 269.50,442.20 271.50,444.00 273.50,446.20 276.20,447.60 278.90,449.90 281.60,451.60 284.30,453.00 287.60,455.25 291.00,456.30 295.00,457.40 299.00,458.35 303.10,459.30 307.10,459.80 312.50,460.10 317.90,459.70 323.30,460.40 327.30,461.00 332.90,461.50 339.80,461.50 346.70,461.20 353.60,461.50 360.50,460.80 367.50,460.80 374.40,460.30 378.50,460.30 384.00,459.00 389.60,457.60 395.10,457.00 397.90,456.20" fill="none" stroke="#ff8a8a" stroke-width="0.45" stroke-linejoin="round"/><g fill="#ff0000"><circle cx="160.10" cy="464.15" r="1.02"/><circle cx="161.72" cy="463.92" r="1.02"/><circle cx="163.35" cy="463.97" r="1.02"/><circle cx="164.97" cy="463.78" r="1.02"/><circle cx="166.59" cy="463.52" r="1.02"/><circle cx="168.21" cy="463.40" r="1.02"/><circle cx="169.84" cy="463.62" r="1.02"/><circle cx="171.46" cy="463.53" r="1.02"/><circle cx="173.08" cy="463.99" r="1.02"/><circle cx="174.71" cy="464.12" r="1.02"/><circle cx="176.33" cy="463.51" r="1.02"/><circle cx="177.95" cy="462.94" r="1.02"/><circle cx="179.58" cy="462.80" r="1.02"/><circle cx="181.20" cy="463.20" r="1.02"/><circle cx="182.82" cy="462.51" r="1.02"/><circle cx="184.44" cy="461.92" r="1.02"/><circle cx="186.07" cy="462.23" r="1.02"/><circle cx="187.69" cy="461.72" r="1.02"/><circle cx="189.31" cy="461.66" r="1.02"/><circle cx="190.94" cy="461.78" r="1.02"/><circle cx="192.56" cy="461.63" r="1.02"/><circle cx="194.18" cy="461.74" r="1.02"/><circle cx="195.81" cy="460.38" r="1.02"/><circle cx="197.43" cy="459.66" r="1.02"/><circle cx="199.05" cy="459.89" r="1.02"/><circle cx="200.67" cy="458.63" r="1.02"/><circle cx="202.30" cy="455.96" r="1.02"/><circle cx="246.12" cy="443.18" r="1.02"/><circle cx="247.74" cy="443.64" r="1.02"/><circle cx="249.36" cy="443.37" r="1.02"/><circle cx="250.99" cy="443.39" r="1.02"/><circle cx="252.61" cy="442.39" r="1.02"/><circle cx="254.23" cy="442.15" r="1.02"/><circle cx="255.86" cy="441.42" r="1.02"/><circle cx="257.48" cy="441.37" r="1.02"/><circle cx="259.10" cy="440.56" r="1.02"/><circle cx="260.73" cy="439.54" r="1.02"/><circle cx="262.35" cy="439.64" r="1.02"/><circle cx="263.97" cy="440.56" r="1.02"/><circle cx="265.59" cy="440.51" r="1.02"/><circle cx="267.22" cy="441.30" r="1.02"/><circle cx="268.84" cy="441.96" r="1.02"/><circle cx="270.46" cy="443.38" r="1.02"/><circle cx="272.09" cy="444.80" r="1.02"/><circle cx="273.71" cy="446.55" r="1.02"/><circle cx="275.33" cy="447.56" r="1.02"/><circle cx="276.96" cy="448.50" r="1.02"/><circle cx="278.58" cy="449.48" r="1.02"/><circle cx="280.20" cy="451.08" r="1.02"/><circle cx="281.82" cy="451.32" r="1.02"/><circle cx="283.45" cy="452.04" r="1.02"/><circle cx="285.07" cy="453.06" r="1.02"/><circle cx="286.69" cy="454.65" r="1.02"/><circle cx="288.32" cy="455.22" r="1.02"/><circle cx="289.94" cy="455.54" r="1.02"/><circle cx="291.56" cy="455.90" r="1.02"/><circle cx="293.19" cy="456.91" r="1.02"/><circle cx="294.81" cy="457.08" r="1.02"/><circle cx="296.43" cy="457.34" r="1.02"/><circle cx="298.05" cy="458.18" r="1.02"/><circle cx="299.68" cy="458.17" r="1.02"/><circle cx="301.30" cy="458.86" r="1.02"/><circle cx="302.92" cy="459.36" r="1.02"/><circle cx="304.55" cy="459.47" r="1.02"/><circle cx="306.17" cy="459.74" r="1.02"/><circle cx="307.79" cy="460.18" r="1.02"/><circle cx="309.42" cy="459.81" r="1.02"/><circle cx="311.04" cy="459.75" r="1.02"/><circle cx="312.66" cy="459.61" r="1.02"/><circle cx="314.28" cy="459.82" r="1.02"/><circle cx="315.91" cy="459.54" r="1.02"/><circle cx="317.53" cy="459.58" r="1.02"/><circle cx="319.15" cy="459.59" r="1.02"/><circle cx="320.78" cy="459.82" r="1.02"/><circle cx="322.40" cy="459.91" r="1.02"/><circle cx="324.02" cy="460.20" r="1.02"/><circle cx="325.65" cy="460.68" r="1.02"/><circle cx="327.27" cy="460.94" r="1.02"/><circle cx="328.89" cy="461.25" r="1.02"/><circle cx="330.51" cy="461.94" r="1.02"/><circle cx="332.14" cy="461.80" r="1.02"/><circle cx="333.76" cy="461.35" r="1.02"/><circle cx="335.38" cy="462.16" r="1.02"/><circle cx="337.01" cy="461.82" r="1.02"/><circle cx="338.63" cy="461.43" r="1.02"/><circle cx="340.25" cy="461.85" r="1.02"/><circle cx="341.88" cy="461.55" r="1.02"/><circle cx="343.50" cy="461.23" r="1.02"/><circle cx="345.12" cy="461.07" r="1.02"/><circle cx="346.74" cy="460.98" r="1.02"/><circle cx="348.37" cy="461.29" r="1.02"/><circle cx="349.99" cy="461.67" r="1.02"/><circle cx="351.61" cy="461.28" r="1.02"/><circle cx="353.24" cy="461.58" r="1.02"/><circle cx="354.86" cy="461.91" r="1.02"/><circle cx="356.48" cy="461.07" r="1.02"/><circle cx="358.11" cy="461.19" r="1.02"/><circle cx="359.73" cy="460.89" r="1.02"/><circle cx="361.35" cy="460.57" r="1.02"/><circle cx="362.97" cy="460.64" r="1.02"/><circle cx="364.60" cy="460.73" r="1.02"/><circle cx="366.22" cy="460.87" r="1.02"/><circle cx="367.84" cy="460.61" r="1.02"/><circle cx="369.47" cy="460.66" r="1.02"/><circle cx="371.09" cy="460.71" r="1.02"/><circle cx="372.71" cy="460.36" r="1.02"/><circle cx="374.34" cy="460.43" r="1.02"/><circle cx="375.96" cy="460.37" r="1.02"/><circle cx="377.58" cy="460.29" r="1.02"/><circle cx="379.20" cy="460.46" r="1.02"/><circle cx="380.83" cy="459.72" r="1.02"/><circle cx="382.45" cy="459.26" r="1.02"/><circle cx="384.07" cy="459.11" r="1.02"/><circle cx="385.70" cy="458.22" r="1.02"/><circle cx="387.32" cy="457.92" r="1.02"/><circle cx="388.94" cy="457.83" r="1.02"/><circle cx="390.57" cy="457.56" r="1.02"/><circle cx="392.19" cy="457.63" r="1.02"/><circle cx="393.81" cy="456.93" r="1.02"/><circle cx="395.43" cy="456.43" r="1.02"/><circle cx="397.06" cy="456.81" r="1.02"/><circle cx="204.10" cy="454.75" r="1.02"/><circle cx="206.00" cy="451.00" r="1.02"/><circle cx="207.50" cy="446.25" r="1.02"/><circle cx="209.10" cy="439.40" r="1.02"/><circle cx="211.00" cy="431.25" r="1.02"/><circle cx="212.50" cy="419.75" r="1.02"/><circle cx="214.10" cy="406.50" r="1.02"/><circle cx="215.75" cy="392.25" r="1.02"/><circle cx="217.50" cy="377.25" r="1.02"/><circle cx="219.10" cy="363.10" r="1.02"/><circle cx="220.75" cy="353.10" r="1.02"/><circle cx="222.00" cy="347.50" r="1.02"/><circle cx="223.75" cy="350.25" r="1.02"/><circle cx="225.40" cy="355.60" r="1.02"/><circle cx="227.25" cy="363.75" r="1.02"/><circle cx="228.75" cy="377.50" r="1.02"/><circle cx="230.40" cy="391.50" r="1.02"/><circle cx="231.90" cy="404.40" r="1.02"/><circle cx="233.50" cy="414.40" r="1.02"/><circle cx="235.10" cy="424.00" r="1.02"/><circle cx="236.75" cy="431.90" r="1.02"/><circle cx="238.50" cy="436.25" r="1.02"/><circle cx="240.00" cy="439.40" r="1.02"/><circle cx="241.60" cy="441.90" r="1.02"/><circle cx="244.10" cy="443.10" r="1.02"/></g></svg></body></html>
